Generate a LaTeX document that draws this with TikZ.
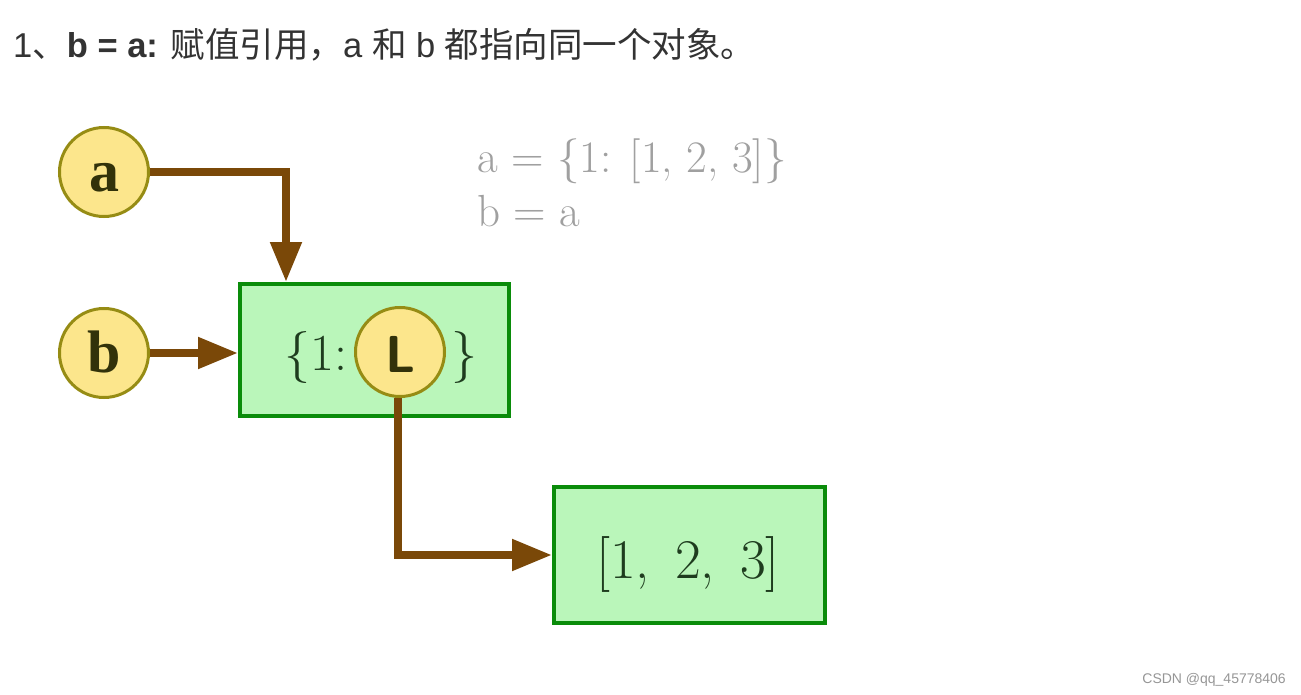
\documentclass[tikz,border=0pt]{standalone}
\usepackage{fontspec}
\usetikzlibrary{arrows.meta,calc}
\newfontfamily\cjk{Noto Sans CJK SC}
\newfontfamily\lat{Liberation Sans}
\newfontfamily\lserif{Liberation Serif}
\definecolor{titlec}{RGB}{51,51,51}
\definecolor{arrc}{RGB}{122,72,8}
\definecolor{circfill}{RGB}{252,230,140}
\definecolor{circdraw}{RGB}{150,140,20}
\definecolor{letc}{RGB}{50,50,10}
\definecolor{boxfill}{RGB}{186,246,186}
\definecolor{boxdraw}{RGB}{10,140,10}
\definecolor{boxtext}{RGB}{30,60,30}
\definecolor{graytext}{RGB}{160,160,160}
\definecolor{wmark}{RGB}{150,150,150}
\tikzset{
  var/.style={circle, fill=circfill, draw=circdraw, line width=3pt, minimum size=89pt, inner sep=0pt},
  letter/.style={anchor=base, inner sep=0pt, text=letc, font=\lserif\fontsize{60}{64}\selectfont\bfseries},
  objbox/.style={rectangle, fill=boxfill, draw=boxdraw, line width=4pt, inner sep=0pt},
  boxtxt/.style={text=boxtext, inner sep=0pt, font=\fontsize{52}{60}\selectfont},
  arr/.style={draw=arrc, line width=8pt, -{Triangle[width=30pt,length=40pt]}},
  code/.style={text=graytext, inner sep=0pt, anchor=base west, font=\fontsize{45}{48}\selectfont}
}
\begin{document}
\begin{tikzpicture}[x=1pt,y=-1pt]
\useasboundingbox (0,0) rectangle (1301,695);
\fill[white] (0,0) rectangle (1301,695);

% title
\node[anchor=base west, inner sep=0pt, text=titlec, font=\fontsize{34.5}{40}\selectfont] (title) at (13,58)
  {\lat 1\cjk 、\lat{\bfseries b = a:} \cjk 赋值引用，\lat a \cjk 和\lat{} b \cjk 都指向同一个对象。};

% code text
\node[code] (code1) at (477,173) {a = \{1: [1, 2, 3]\}};
\node[code] (code2) at (477,227) {b = a};

% objects
\node[objbox, minimum width=269pt, minimum height=132pt] (box1) at (374.5,350) {};
\node[objbox, minimum width=271pt, minimum height=136pt] (box2) at (689.5,555) {};
\node[boxtxt, anchor=base east] (t1) at (348,370) {\{1:};
\node[boxtxt, anchor=base west] (t2) at (451,370) {\}};
\node[boxtxt, anchor=base, font=\fontsize{56}{60}\selectfont] (t3) at (688,578) {[1,\hspace{0.45em}2,\hspace{0.45em}3]};

% variables
\node[var] (a) at (104,172) {};
\node[letter] (al) at (104,192) {a};
\node[var] (b) at (104,353) {};
\node[letter] (bl) at (104,372) {b};
\node[var] (L) at (400,352) {};
\node[letter, font=\fontsize{52}{60}\selectfont\sffamily\bfseries] (Ll) at (401,372) {L};

% connectors
\draw[arr] (a.east) -| ([xshift=48pt]box1.north west);
\draw[arr] (b.east) -- (b.east -| box1.west);
\draw[arr] ([xshift=-2pt]L.south) |- (box2.west);

% watermark
\node[anchor=base east, inner sep=0pt, text=wmark, font=\lat\fontsize{14}{16}\selectfont] (wm) at (1286,683) {CSDN @qq\_45778406};
\end{tikzpicture}
\end{document}
